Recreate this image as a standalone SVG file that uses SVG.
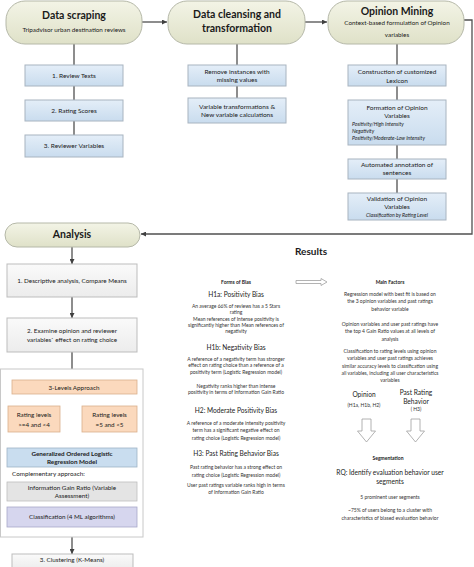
<svg xmlns="http://www.w3.org/2000/svg" width="474" height="567" viewBox="0 0 474 567">
<defs>
<linearGradient id="pill" x1="0" y1="0" x2="0" y2="1">
<stop offset="0" stop-color="#f3f4e6"/>
<stop offset="1" stop-color="#dfe1c8"/>
</linearGradient>
<linearGradient id="blue" x1="0" y1="0" x2="0" y2="1">
<stop offset="0" stop-color="#e4eef8"/>
<stop offset="1" stop-color="#c9dcee"/>
</linearGradient>
<linearGradient id="gray" x1="0" y1="0" x2="0" y2="1">
<stop offset="0" stop-color="#fafafa"/>
<stop offset="1" stop-color="#ececec"/>
</linearGradient>
<marker id="ah" viewBox="0 0 6 6" refX="6" refY="3" markerWidth="5" markerHeight="5" orient="auto" markerUnits="userSpaceOnUse">
<path d="M0,0 L6,3 L0,6 Z" fill="#404040"/>
</marker>
<style>
text{font-family:Lato,"Liberation Sans",sans-serif;fill:#1a1a1a;text-anchor:middle}
.pill{fill:url(#pill);stroke:#b5b8a8;stroke-width:1}
.bx{fill:url(#blue);stroke:#a8b4c0;stroke-width:1}
.gb{fill:url(#gray);stroke:#bdbdbd;stroke-width:1}
.ln{stroke:#505050;stroke-width:1.3;fill:none}
.t1{font-size:10.5px;font-weight:bold}
.t2{font-size:6.3px}
.bt{font-size:6.5px}
.it{font-size:5.2px;font-style:italic;text-anchor:start}
.rb{font-size:5px;fill:#333}
.rh{font-size:6.6px;fill:#222}
.rs{font-size:5px;font-weight:bold}
.hol{fill:#fff;stroke:#a0a0a0;stroke-width:0.8}
</style>
</defs>

<g id="connectors">
<line class="ln" x1="142" y1="22" x2="167" y2="22" marker-end="url(#ah)"/>
<line class="ln" x1="305" y1="22" x2="327" y2="22" marker-end="url(#ah)"/>
<polyline class="ln" points="464,20 472,20 472,234 141,234" marker-end="url(#ah)"/>
<line class="ln" x1="74" y1="44" x2="74" y2="135"/>
<line class="ln" x1="237" y1="44" x2="237" y2="98"/>
<line class="ln" x1="397" y1="44" x2="397" y2="193"/>
<line class="ln" x1="72" y1="247" x2="72" y2="264" marker-end="url(#ah)"/>
<line class="ln" x1="72" y1="297" x2="72" y2="318" marker-end="url(#ah)"/>
<line class="ln" x1="72" y1="352" x2="72" y2="369"/>
<polyline class="ln" points="72,394 72,398"/>
<line class="ln" x1="36" y1="398" x2="109" y2="398"/>
<line class="ln" x1="36" y1="398" x2="36" y2="406" marker-end="url(#ah)"/>
<line class="ln" x1="109" y1="398" x2="109" y2="406" marker-end="url(#ah)"/>
<line class="ln" x1="72" y1="537" x2="72" y2="554" marker-end="url(#ah)"/>
</g>

<g id="data-scraping">
<rect class="pill" x="6" y="1" width="136" height="43" rx="19"/>
<text class="t1" x="74" y="19">Data scraping</text>
<text class="t2" x="74" y="32">Tripadvisor urban destination reviews</text>
</g>
<g id="review-texts">
<rect class="bx" x="25" y="65" width="98" height="21"/>
<text class="bt" x="74" y="78">1. Review Texts</text>
</g>
<g id="rating-scores">
<rect class="bx" x="25" y="100" width="98" height="21"/>
<text class="bt" x="74" y="113">2. Rating Scores</text>
</g>
<g id="reviewer-variables">
<rect class="bx" x="25" y="135" width="98" height="22"/>
<text class="bt" x="74" y="148">3. Reviewer Variables</text>
</g>

<g id="data-cleansing">
<rect class="pill" x="168" y="1" width="137" height="43" rx="19"/>
<text class="t1" x="237" y="18">Data cleansing and</text>
<text class="t1" x="237" y="32">transformation</text>
</g>
<g id="remove-instances">
<rect class="bx" x="188" y="65" width="98" height="21"/>
<text class="bt" x="237" y="74">Remove instances with</text>
<text class="bt" x="237" y="82">missing values</text>
</g>
<g id="variable-transformations">
<rect class="bx" x="188" y="98" width="98" height="25"/>
<text class="bt" x="237" y="109">Variable transformations &amp;</text>
<text class="bt" x="237" y="117">New variable calculations</text>
</g>

<g id="opinion-mining">
<rect class="pill" x="328" y="1" width="136" height="43" rx="19"/>
<text class="t1" x="397" y="15">Opinion Mining</text>
<text class="t2" x="397" y="25">Context-based formulation of Opinion</text>
<text class="t2" x="397" y="37">variables</text>
</g>
<g id="lexicon">
<rect class="bx" x="348" y="65" width="98" height="21"/>
<text class="bt" x="397" y="74">Construction of customized</text>
<text class="bt" x="397" y="83">Lexicon</text>
</g>
<g id="formation">
<rect class="bx" x="348" y="100" width="98" height="45"/>
<text class="bt" x="397" y="110">Formation of Opinion</text>
<text class="bt" x="397" y="118">Variables</text>
<text class="it" x="352" y="126">Positivity/High Intensity</text>
<text class="it" x="352" y="133">Negativity</text>
<text class="it" x="352" y="140">Positivity/Moderate-Low Intensity</text>
</g>
<g id="annotation">
<rect class="bx" x="348" y="159" width="98" height="20"/>
<text class="bt" x="397" y="167">Automated annotation of</text>
<text class="bt" x="397" y="175">sentences</text>
</g>
<g id="validation">
<rect class="bx" x="348" y="193" width="98" height="27"/>
<text class="bt" x="397" y="201">Validation of Opinion</text>
<text class="bt" x="397" y="209">Variables</text>
<text class="it" x="397" y="217" style="text-anchor:middle">Classification by Rating Level</text>
</g>

<g id="analysis">
<rect class="pill" x="5" y="223" width="135" height="24" rx="12"/>
<text class="t1" x="72" y="238">Analysis</text>
</g>
<g id="descriptive">
<rect class="gb" x="7" y="264" width="130" height="33"/>
<text class="t2" x="72" y="283">1. Descriptive analysis, Compare Means</text>
</g>
<g id="examine">
<rect class="gb" x="7" y="318" width="130" height="34"/>
<text class="t2" x="72" y="333">2. Examine opinion and reviewer</text>
<text class="t2" x="72" y="342">variables` effect on rating choice</text>
</g>
<g id="approach-container">
<rect x="0.5" y="369" width="142.5" height="168" fill="#fff" stroke="#c8c8c8" stroke-width="1"/>
<rect x="12" y="380" width="125" height="14" fill="#fbd9bd" stroke="#d9b08c" stroke-width="0.8"/>
<text class="t2" x="74" y="389.5">3-Levels Approach</text>
<g id="rating-levels-4">
<rect x="8" y="406" width="52" height="26" fill="#fbd9bd" stroke="#d9b08c" stroke-width="0.8"/>
<text class="t2" x="34" y="417">Rating levels</text>
<text class="t2" x="34" y="427">&gt;=4 and &lt;4</text>
</g>
<g id="rating-levels-5">
<rect x="82" y="406" width="55" height="26" fill="#fbd9bd" stroke="#d9b08c" stroke-width="0.8"/>
<text class="t2" x="109.5" y="417">Rating levels</text>
<text class="t2" x="109.5" y="427">=5 and &lt;5</text>
</g>
<g id="golr">
<rect x="7" y="448" width="130" height="19" fill="#c9ddef" stroke="#9fb3c6" stroke-width="0.8"/>
<text class="t2" x="72" y="456" font-weight="bold">Generalized Ordered Logistic</text>
<text class="t2" x="72" y="464" font-weight="bold">Regression Model</text>
</g>
<text class="t2" x="12" y="476" style="text-anchor:start">Complementary approach:</text>
<g id="info-gain">
<rect x="7" y="482" width="130" height="19" fill="#e4e4e4" stroke="#bdbdbd" stroke-width="0.8"/>
<text class="t2" x="72" y="490">Information Gain Ratio (Variable</text>
<text class="t2" x="72" y="498">Assessment)</text>
</g>
<g id="classification">
<rect x="7" y="507" width="130" height="20" fill="#d6d6ee" stroke="#a8a8c8" stroke-width="0.8"/>
<text class="t2" x="72" y="519">Classification (4 ML algorithms)</text>
</g>
</g>
<g id="clustering">
<rect class="gb" x="12" y="554" width="121" height="16"/>
<text class="t2" x="72" y="562">3. Clustering (K-Means)</text>
</g>

<g id="results">
<text x="311" y="255" font-size="10px" font-weight="bold">Results</text>
<path class="hol" d="M296,280.5 H321 V278.5 L327,282 L321,285.5 V283.5 H296 Z"/>
</g>

<g id="forms-of-bias">
<text class="rs" x="236" y="284">Forms of Bias</text>
<text class="rh" x="236" y="297">H1a: Positivity Bias</text>
<text class="rb" x="236" y="308">An average 66% of reviews has a 5 Stars</text>
<text class="rb" x="236" y="314">rating</text>
<text class="rb" x="236" y="321">Mean references of Intense positivity is</text>
<text class="rb" x="236" y="327">significantly higher than Mean references of</text>
<text class="rb" x="236" y="333">negativity</text>
<text class="rh" x="236" y="350">H1b: Negativity Bias</text>
<text class="rb" x="236" y="361">A reference of a negativity term has stronger</text>
<text class="rb" x="236" y="367">effect on rating choice than a reference of a</text>
<text class="rb" x="236" y="374">positivity term (Logistic Regression model)</text>
<text class="rb" x="236" y="388">Negativity ranks higher than intense</text>
<text class="rb" x="236" y="394">positivity in terms of Information Gain Ratio</text>
<text class="rh" x="236" y="413">H2: Moderate Positivity Bias</text>
<text class="rb" x="236" y="425">A reference of a moderate intensity positivity</text>
<text class="rb" x="236" y="432">term has a significant negative effect on</text>
<text class="rb" x="236" y="440">rating choice (Logistic Regression model)</text>
<text class="rh" x="236" y="456">H3: Past Rating Behavior Bias</text>
<text class="rb" x="236" y="469">Past rating behavior has a strong effect on</text>
<text class="rb" x="236" y="477">rating choice (Logistic Regression model)</text>
<text class="rb" x="236" y="487">User past ratings variable ranks high in terms</text>
<text class="rb" x="236" y="494">of Information Gain Ratio</text>
</g>

<g id="main-factors">
<text class="rs" x="390" y="284">Main Factors</text>
<text class="rb" x="390" y="296">Regression model with best fit is based on</text>
<text class="rb" x="390" y="303">the 3 opinion variables and past ratings</text>
<text class="rb" x="390" y="311">behavior variable</text>
<text class="rb" x="390" y="326">Opinion variables and user past ratings have</text>
<text class="rb" x="390" y="333">the top 4 Gain Ratio values at all levels of</text>
<text class="rb" x="390" y="341">analysis</text>
<text class="rb" x="390" y="353">Classification to rating levels using opinion</text>
<text class="rb" x="390" y="360">variables and user past ratings achieves</text>
<text class="rb" x="390" y="368">similar accuracy levels to classification using</text>
<text class="rb" x="390" y="375">all variables, including all user characteristics</text>
<text class="rb" x="390" y="382">variables</text>
</g>

<g id="opinion-factor">
<text class="rh" x="364" y="397">Opinion</text>
<text class="rb" x="364" y="407">(H1a, H1b, H2)</text>
<path class="hol" d="M362,419 H371 V431 H375.5 L366.5,442 L357.5,431 H362 Z"/>
</g>
<g id="past-rating-factor">
<text class="rh" x="416" y="395">Past Rating</text>
<text class="rh" x="416" y="404">Behavior</text>
<text class="rb" x="416" y="411">( H3)</text>
<path class="hol" d="M411,419 H420 V431 H424.5 L415.5,442 L406.5,431 H411 Z"/>
</g>

<g id="segmentation">
<text class="rs" x="388" y="460">Segmentation</text>
<text class="rh" x="390" y="475">RQ: Identify evaluation behavior user</text>
<text class="rh" x="390" y="484">segments</text>
<text class="rb" x="390" y="499">5 prominent user segments</text>
<text class="rb" x="390" y="512">~75% of users belong to a cluster with</text>
<text class="rb" x="390" y="520">characteristics of biased evaluation behavior</text>
</g>
</svg>
